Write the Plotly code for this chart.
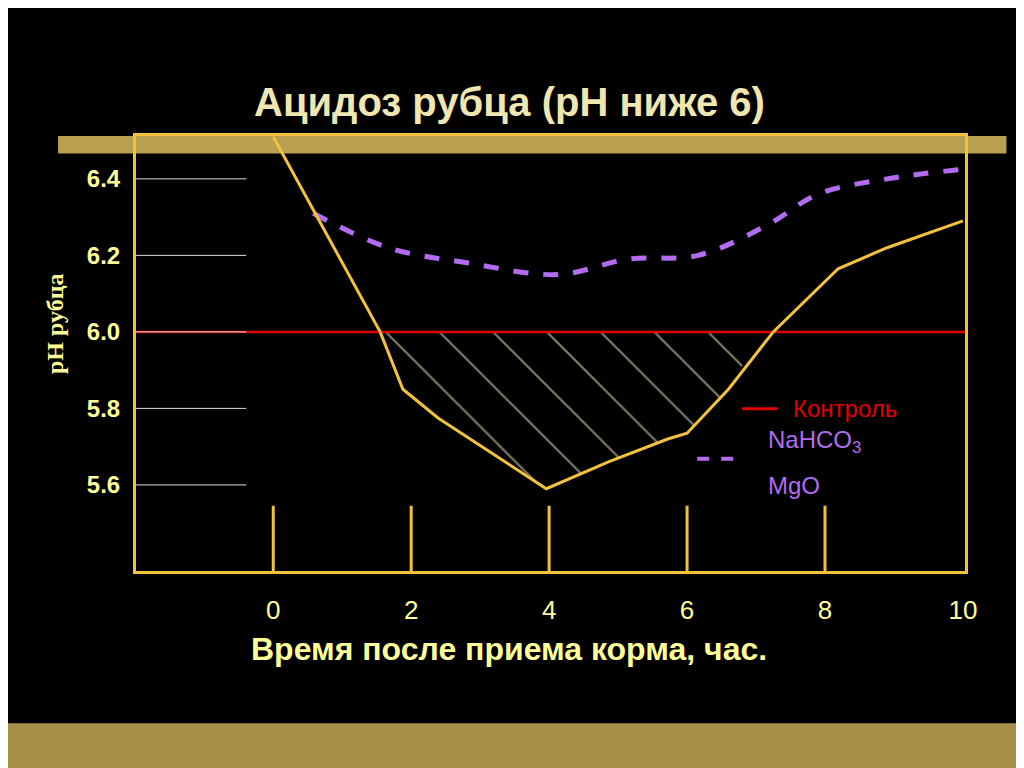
import plotly.graph_objects as go

# время после приема корма, ч
t_control = [0, 0.8, 1.55, 1.88, 2.39, 3.96, 4.86, 5.72, 6.0, 6.6, 7.25, 8.19, 8.9, 10]
ph_control = [6.51, 6.245, 6.0, 5.85, 5.775, 5.59, 5.66, 5.72, 5.735, 5.85, 6.0, 6.165, 6.22, 6.29]

t_buffer = [0.58, 1.67, 2.83, 4.13, 5.14, 6.16, 7.17, 7.9, 8.9, 10]
ph_buffer = [6.31, 6.22, 6.18, 6.15, 6.19, 6.2, 6.28, 6.36, 6.40, 6.425]

# заштрихованная зона ниже pH 6
t_zone = [1.55, 1.88, 2.39, 3.96, 4.86, 5.72, 6.0, 6.6, 6.8]
ph_zone = [6.0, 5.85, 5.775, 5.59, 5.66, 5.72, 5.735, 5.85, 5.91]

ph_limit = 6.0
x_ticks = [0, 2, 4, 6, 8, 10]
y_ticks = [5.6, 5.8, 6.0, 6.2, 6.4]

GOLD = "#f2c23c"
CREAM = "#ffff99"
PURPLE = "#b36cf0"
RED = "#e00000"
SANS = "Liberation Sans"

fig = go.Figure()

fig.add_trace(go.Scatter(
    x=t_zone + [t_zone[-1], t_zone[0]],
    y=ph_zone + [ph_limit, ph_limit],
    fill="toself", mode="none",
    fillcolor="rgba(0,0,0,0)",
    fillpattern=dict(shape="\\", fgcolor="#fff4d0", bgcolor="black",
                     size=38, solidity=0.06),
    hoverinfo="skip"))

fig.add_trace(go.Scatter(x=[-2, 10.05], y=[ph_limit, ph_limit], mode="lines",
                         line=dict(color=RED, width=2.5)))
fig.add_trace(go.Scatter(x=t_buffer, y=ph_buffer, mode="lines",
                         line=dict(color=PURPLE, width=5, dash="dash", shape="spline")))
fig.add_trace(go.Scatter(x=t_control, y=ph_control, mode="lines",
                         line=dict(color=GOLD, width=3)))

shapes = []
# короткие линии сетки слева
for v in y_ticks:
    shapes.append(dict(type="line", xref="paper", yref="y", x0=0, x1=0.133, y0=v, y1=v,
                       line=dict(color="#dddddd", width=1)))
# вертикальные засечки снизу
for v in x_ticks[:-1]:
    shapes.append(dict(type="line", xref="x", yref="paper", x0=v, x1=v, y0=0, y1=0.15,
                       line=dict(color=GOLD, width=3)))
# золотые полосы
shapes.append(dict(type="rect", xref="paper", yref="paper", x0=-0.094, x1=1.05,
                   y0=0.96, y1=1.0, fillcolor="#b8a050", line=dict(width=0), layer="below"))
shapes.append(dict(type="rect", xref="paper", yref="paper", x0=-0.2, x1=1.1,
                   y0=-0.35, y1=-0.47, fillcolor="#a8904a", line=dict(width=0)))
# легенда
shapes.append(dict(type="line", xref="paper", yref="paper", x0=0.731, x1=0.774, y0=0.373, y1=0.373,
                   line=dict(color=RED, width=3)))
shapes.append(dict(type="line", xref="paper", yref="paper", x0=0.677, x1=0.731, y0=0.258, y1=0.258,
                   line=dict(color=PURPLE, width=4, dash="dash")))

annotations = [
    dict(text="Контроль", xref="paper", yref="paper", x=0.79, y=0.373, showarrow=False,
         xanchor="left", font=dict(color=RED, size=24, family=SANS)),
    dict(text="NaHCO<sub>3</sub>", xref="paper", yref="paper", x=0.76, y=0.258, showarrow=False,
         xanchor="left", font=dict(color=PURPLE, size=24, family=SANS)),
    dict(text="MgO", xref="paper", yref="paper", x=0.76, y=0.16, showarrow=False,
         xanchor="left", font=dict(color=PURPLE, size=24, family=SANS)),
    dict(text="Ацидоз рубца (pH ниже 6)", xref="paper", yref="paper", x=0.45, y=1.0,
         yshift=58, showarrow=False,
         font=dict(color="#f0e6b0", size=40, family=SANS, weight="bold")),
    dict(text="Время после приема корма, час.", xref="paper", yref="paper", x=0.45, y=0,
         yshift=-98, showarrow=False,
         font=dict(color=CREAM, size=32, family=SANS, weight="bold")),
    dict(text="pH рубца", xref="paper", yref="paper", x=-0.115, y=0.69, textangle=-90,
         showarrow=False, font=dict(color=CREAM, size=24, family="Liberation Serif", weight="bold")),
]

fig.update_layout(
    width=1024, height=768, paper_bgcolor="black", plot_bgcolor="black",
    margin=dict(l=128, r=67, t=128, b=205), showlegend=False,
    shapes=shapes, annotations=annotations,
    xaxis=dict(range=[-1.99, 10.03], tickvals=x_ticks, showgrid=False, zeroline=False,
               showline=True, linecolor=GOLD, linewidth=3, mirror=True, ticks="",
               ticklabelstandoff=14,
               tickfont=dict(color=CREAM, size=26, family=SANS)),
    yaxis=dict(range=[5.375, 6.512], tickvals=y_ticks, tickformat=".1f", showgrid=False,
               zeroline=False, showline=True, linecolor=GOLD, linewidth=3, mirror=True,
               ticks="", ticklabelstandoff=8,
               tickfont=dict(color=CREAM, size=24, family=SANS, weight="bold")),
)

fig.write_html("out.html")
